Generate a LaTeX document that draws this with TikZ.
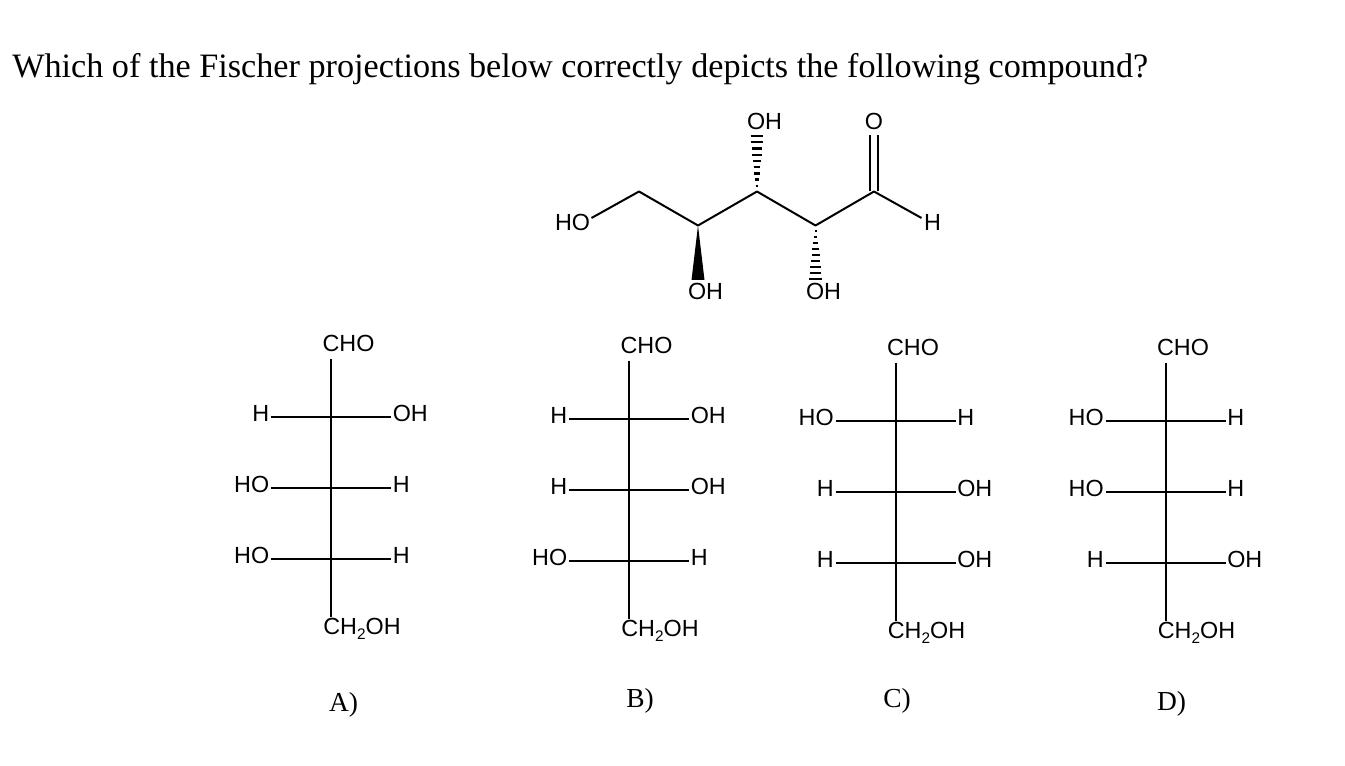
\documentclass[tikz,border=0pt]{standalone}
\usepackage{fontspec}
\setmainfont{Liberation Serif}
\newfontfamily\labelfont{Liberation Sans}
\usetikzlibrary{calc}
\tikzset{
  bond/.style={draw=black,line width=1.5pt},
  hashbar/.style={draw=black,line width=1.7pt},
  wedgefill/.style={fill=black,draw=none},
  chem/.style={font=\labelfont\fontsize{17.5}{20}\selectfont,text=black,inner sep=0pt},
  chemside/.style={chem},
  chemtop/.style={chem,anchor=center,inner xsep=0pt,inner ysep=5pt},
  chembot/.style={chem,anchor=north},
  mol/.style={chem,inner sep=2pt},
  optionlabel/.style={font=\fontsize{20.6}{24}\selectfont,text=black,inner sep=0pt},
  titletext/.style={font=\fontsize{25.65}{30}\selectfont,text=black,inner sep=0pt,anchor=base west}
}
\newcommand{\fischerproj}[9]{%
  % #1 prefix, #2 x, #3 y, #4 l1, #5 r1, #6 l2, #7 r2, #8 l3, #9 r3
  \coordinate (#1h1) at (#2,#3);
  \coordinate (#1h2) at (#2,#3+71);
  \coordinate (#1h3) at (#2,#3+142);
  \node[chemside,anchor=east] (#1l1) at (#2-61.5,#3-3.5) {#4};
  \node[chemside,anchor=west] (#1r1) at (#2+61.5,#3-3.5) {#5};
  \node[chemside,anchor=east] (#1l2) at (#2-61.5,#3+67.5) {#6};
  \node[chemside,anchor=west] (#1r2) at (#2+61.5,#3+67.5) {#7};
  \node[chemside,anchor=east] (#1l3) at (#2-61.5,#3+138.5) {#8};
  \node[chemside,anchor=west] (#1r3) at (#2+61.5,#3+138.5) {#9};
  \node[chemtop] (#1top) at (#2+17.5,#3-73.5) {CHO};
  \node[chembot] (#1bot) at (#2+31,#3+201) {CH\raisebox{-0.22em}{\fontsize{11.5}{12}\selectfont 2}OH};
  \draw[bond] (#1top.south -| #1h1) -- ($(#1bot.north -| #1h1)+(0,-1)$);
  \foreach \r in {1,2,3}{
    \draw[bond] ($(#1l\r.east |- #1h\r)+(1.5,0)$) -- ($(#1r\r.west |- #1h\r)+(-1.5,0)$);
  }
}
\begin{document}
\begin{tikzpicture}[x=0.75pt,y=-0.75pt]
\useasboundingbox (0,0) rectangle (1345,766);
\node[titletext] (title) at (12,78) {Which of the Fischer projections below correctly depicts the following compound?};

% upper molecule
\node[mol] (ho) at (572.5,222) {HO};
\node[mol] (h) at (932.5,222) {H};
\node[mol] (oha) at (764.5,121) {OH};
\node[mol] (o) at (874,121) {O};
\node[mol] (ohb) at (705.5,291) {OH};
\node[mol] (ohc) at (823.5,291) {OH};
\coordinate (c1) at (639,191.5);
\coordinate (c2) at (698,225.5);
\coordinate (c3) at (757,191.5);
\coordinate (c4) at (815.5,225.5);
\coordinate (c5) at (874,191.5);
\coordinate (h3end) at (757,135);
\coordinate (h4end) at (815.5,280);
\coordinate (h2end) at (698,280);
\draw[bond,line join=round] ($(ho)+(19,-4)$) -- (c1) -- (c2) -- (c3) -- (c4) -- (c5) -- ($(h)+(-11,-4)$);
\draw[bond] ($(c5)+(-4,0)$) -- ($(o)+(-4,14)$);
\draw[bond] ($(c5)+(4,0)$) -- ($(o)+(4,14)$);
\fill[wedgefill] (c2) -- ($(h2end)+(-6.5,0)$) -- ($(h2end)+(6.5,0)$) -- cycle;
\foreach \t/\w in {0.10/1,0.21/1.8,0.32/2.6,0.43/3.3,0.54/4,0.65/4.6,0.76/5.2,0.87/5.8,0.98/6.4}{
  \draw[hashbar] ($(c3)!\t!(h3end)+(-\w,0)$) -- ($(c3)!\t!(h3end)+(\w,0)$);
  \draw[hashbar] ($(c4)!\t!(h4end)+(-\w,0)$) -- ($(c4)!\t!(h4end)+(\w,0)$);
}

% Fischer projections
\fischerproj{a}{331}{417}{H}{OH}{HO}{H}{HO}{H}
\fischerproj{b}{629}{419}{H}{OH}{H}{OH}{HO}{H}
\fischerproj{c}{895.5}{421}{HO}{H}{H}{OH}{H}{OH}
\fischerproj{d}{1165.5}{421}{HO}{H}{HO}{H}{H}{OH}

\node[optionlabel] (la) at (343.5,705) {A)};
\node[optionlabel] (lb) at (640,701) {B)};
\node[optionlabel] (lc) at (897,701) {C)};
\node[optionlabel] (ld) at (1171.5,704) {D)};
\end{tikzpicture}
\end{document}
